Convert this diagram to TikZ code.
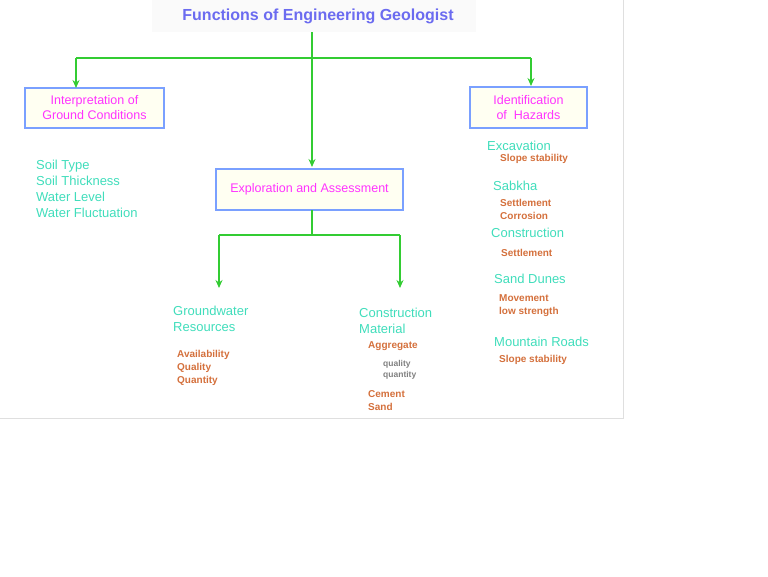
\documentclass[tikz,border=0pt]{standalone}
\usepackage{fontspec}
\setmainfont{Liberation Sans}
\usetikzlibrary{arrows.meta}
\definecolor{ttl}{HTML}{6B6BF0}
\definecolor{bx}{HTML}{7AA0FF}
\definecolor{mg}{HTML}{FF33FF}
\definecolor{tq}{HTML}{40DDBB}
\definecolor{og}{HTML}{D4703C}
\definecolor{gn}{HTML}{33CC33}
\definecolor{bg}{HTML}{FFFFF2}
\tikzset{
 x=1pt,y=-1pt,
 box/.style={draw=bx,line width=1.8pt,fill=bg,text=mg,font=\fontsize{12.5}{15}\selectfont,align=center,inner sep=0pt},
 cat/.style={text=tq,font=\fontsize{13}{16}\selectfont,anchor=west,align=left,inner sep=0pt},
 sub/.style={text=og,font=\bfseries\fontsize{10}{13}\selectfont,anchor=west,align=left,inner sep=0pt},
 conn/.style={gn,line width=2.2pt,-{Stealth[length=8pt,width=7pt]}},
 ln/.style={gn,line width=2.2pt}
}
\begin{document}
\begin{tikzpicture}
\useasboundingbox (0,0) rectangle (768,576);
\draw[gray!25] (623,0) -- (623,418) -- (0,418);
\fill[gray!4] (152,0) rectangle (476,32);
\node[text=ttl,font=\bfseries\fontsize{16}{19}\selectfont,inner sep=0pt] (title) at (318,16) {Functions of Engineering Geologist};
\node[box,minimum width=139pt,minimum height=40pt] (b1) at (94.5,108) {Interpretation of\\Ground Conditions};
\node[box,minimum width=117pt,minimum height=41pt] (b3) at (528.5,107.5) {Identification\\of\ \ Hazards};
\node[box,minimum width=187pt,minimum height=41pt] (b2) at (309.5,189.5) {Exploration and Assessment};
\coordinate (t0) at (312,32);
\coordinate (h1) at (76,58);
\coordinate (h3) at (531,58);
\draw[conn] (t0) -- (312,167);
\draw[ln] (h1) -- (h3);
\draw[conn] (h1) -- (76,88);
\draw[conn] (h3) -- (531,86);
\coordinate (g0) at (219,235);
\coordinate (g1) at (400,235);
\draw[ln] (312,210) -- (312,235);
\draw[ln] (g0) -- (g1);
\draw[conn] (g0) -- (219,288);
\draw[conn] (g1) -- (400,288);
\node[cat] (soil) at (36,189) {Soil Type\\Soil Thickness\\Water Level\\Water Fluctuation};
\node[cat] (gw) at (173,319) {Groundwater\\Resources};
\node[sub] (gws) at (177,368) {Availability\\Quality\\Quantity};
\node[cat] (cm) at (359,321) {Construction\\Material};
\node[sub] (agg) at (368,346) {Aggregate};
\node[sub,text=gray,font=\bfseries\fontsize{8.5}{11}\selectfont] (qq) at (383,369.5) {quality\\quantity};
\node[sub] (cs) at (368,400.5) {Cement\\Sand};
\node[cat] (ex) at (487,146) {Excavation};
\node[sub] (ex1) at (500,159) {Slope stability};
\node[cat] (sb) at (493,186) {Sabkha};
\node[sub] (sb1) at (500,209.5) {Settlement\\Corrosion};
\node[cat] (co) at (491,233) {Construction};
\node[sub] (co1) at (501,253) {Settlement};
\node[cat] (sd) at (494,279) {Sand Dunes};
\node[sub] (sd1) at (499,306) {Movement\\low strength};
\node[cat] (mr) at (494,342) {Mountain Roads};
\node[sub] (mr1) at (499,360) {Slope stability};
\end{tikzpicture}
\end{document}
